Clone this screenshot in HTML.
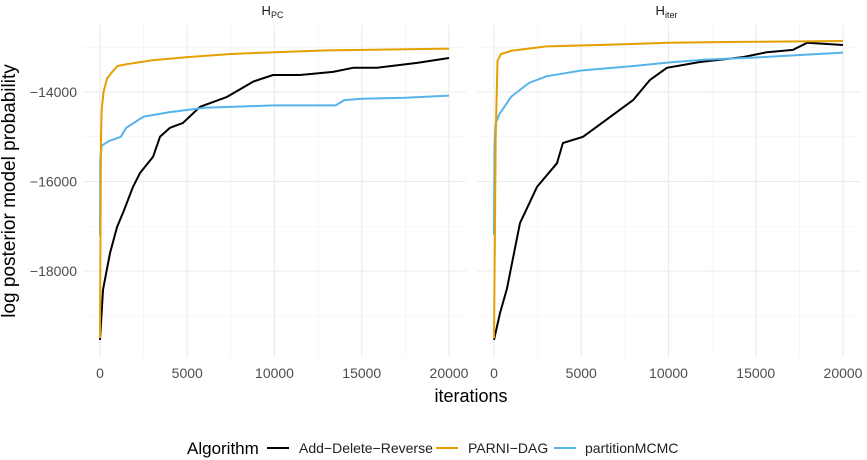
<!DOCTYPE html>
<html><head><meta charset="utf-8"><style>
html,body{margin:0;padding:0;background:#fff;}
svg{display:block;font-family:"Liberation Sans",sans-serif;}
</style></head><body>
<svg id="chart" width="867" height="460" viewBox="0 0 867 460">
<g id="panels"></g>
<text x="15" y="191" transform="rotate(-90 15 191)" text-anchor="middle" font-size="19" fill="#000">log posterior model probability</text>
<text x="471" y="402" text-anchor="middle" font-size="18" fill="#000">iterations</text>
<g>
<text x="187" y="454" font-size="17" fill="#000">Algorithm</text>
<line x1="267" y1="448" x2="289" y2="448" stroke="#000" stroke-width="2"/>
<text x="299" y="453" font-size="14" fill="#222">Add−Delete−Reverse</text>
<line x1="436" y1="448" x2="458" y2="448" stroke="#E69F00" stroke-width="2"/>
<text x="468" y="453" font-size="14" fill="#222">PARNI−DAG</text>
<line x1="554" y1="448" x2="576" y2="448" stroke="#56B4E9" stroke-width="2"/>
<text x="585" y="453" font-size="14" fill="#222">partitionMCMC</text>
</g>
</svg>
<script>
const xTicks=[0,5000,10000,15000,20000];
const yTicks=[-14000,-16000,-18000];
const yMinor=[-13000,-15000,-17000,-19000];
const panelTitles=["PC","iter"];
const leftBlackX=[0,172,573,974,1318,1891,2292,3037,3438,4011,4756,5730,7278,8768,9914,11460,13350,14500,15870,18170,20000];
const leftBlackY=[-19540,-18420,-17600,-17020,-16700,-16120,-15810,-15450,-15000,-14800,-14690,-14330,-14110,-13770,-13620,-13620,-13550,-13460,-13460,-13350,-13240];
const leftOrangeX=[0,30,60,100,200,400,700,1000,1500,3000,5000,7500,10000,13000,20000];
const leftOrangeY=[-19500,-17200,-15000,-14400,-14000,-13700,-13550,-13420,-13380,-13290,-13220,-13150,-13110,-13070,-13030];
const leftBlueX=[0,20,100,500,1200,1500,2500,4000,6000,10000,13500,14000,15000,17500,20000];
const leftBlueY=[-17200,-15500,-15200,-15100,-15000,-14800,-14550,-14450,-14350,-14300,-14300,-14180,-14150,-14130,-14080];
const rightBlackX=[0,344,745,917,1490,2464,3610,3950,5100,6650,7970,8940,9910,11800,14270,15640,17130,17940,20000];
const rightBlackY=[-19540,-18940,-18390,-18050,-16930,-16120,-15590,-15140,-15000,-14560,-14180,-13730,-13460,-13330,-13220,-13110,-13060,-12900,-12950];
const rightOrangeX=[0,50,100,200,400,1000,3000,6000,10000,14000,20000];
const rightOrangeY=[-19500,-17200,-15000,-13300,-13150,-13080,-12980,-12950,-12900,-12880,-12860];
const rightBlueX=[0,30,100,300,1000,2000,3000,5000,8000,10000,12000,15000,20000];
const rightBlueY=[-17200,-15200,-14700,-14500,-14100,-13800,-13650,-13520,-13420,-13340,-13280,-13230,-13120];

const NS="http://www.w3.org/2000/svg";
const gPanels=document.getElementById('panels');
const panels=[{x0:100,left:83,right:466,series:[[leftBlackX,leftBlackY,"#000","add-delete-reverse"],[leftBlueX,leftBlueY,"#56B4E9","partitionmcmc"],[leftOrangeX,leftOrangeY,"#E69F00","parni-dag"]]},
{x0:494,left:477,right:860,series:[[rightBlackX,rightBlackY,"#000","add-delete-reverse"],[rightBlueX,rightBlueY,"#56B4E9","partitionmcmc"],[rightOrangeX,rightOrangeY,"#E69F00","parni-dag"]]}];
const plotTop=25,plotBottom=357;
function yS(v){return 92-(v+14000)/2000*89.5;}
function mk(tag,attrs){const e=document.createElementNS(NS,tag);for(const k in attrs)e.setAttribute(k,attrs[k]);return e;}
panels.forEach((p,pi)=>{
  const xS=v=>p.x0+v/20000*349;
  const pg=mk('g',{});
  
  
  gPanels.appendChild(pg);
  yMinor.forEach(v=>{const l=mk('line',{x1:p.left,x2:p.right,y1:yS(v),y2:yS(v),stroke:'#f1f1f1','stroke-width':0.6});
    
    
    pg.appendChild(l);});
  xTicks.slice(0,4).forEach(v=>{const l=mk('line',{x1:xS(v+2500),x2:xS(v+2500),y1:plotTop,y2:plotBottom,stroke:'#f1f1f1','stroke-width':0.6});
    
    
    pg.appendChild(l);});
  yTicks.forEach(v=>{const l=mk('line',{x1:p.left,x2:p.right,y1:yS(v),y2:yS(v),stroke:'#ebebeb','stroke-width':1.1});
    
    
    pg.appendChild(l);
    if(pi===0){const t=mk('text',{x:77,y:yS(v)+5,'text-anchor':'end','font-size':14,fill:'#4d4d4d'});t.textContent='−'+Math.abs(v);
      
      
      pg.appendChild(t);}});
  xTicks.forEach(v=>{const l=mk('line',{x1:xS(v),x2:xS(v),y1:plotTop,y2:plotBottom,stroke:'#ebebeb','stroke-width':1.1});
    
    
    pg.appendChild(l);
    const t=mk('text',{x:xS(v),y:378,'text-anchor':'middle','font-size':14,fill:'#4d4d4d'});t.textContent=v;
    
    
    pg.appendChild(t);});
  const tt=mk('text',{x:(p.left+p.right)/2-2,y:15,'text-anchor':'middle','font-size':13,fill:'#1a1a1a'});
  tt.innerHTML='H<tspan font-size="9" dy="3">'+panelTitles[pi]+'</tspan>';
  
  
  pg.appendChild(tt);
  p.series.forEach(s=>{
    const pts=s[0].map((x,i)=>xS(x).toFixed(1)+','+yS(s[1][i]).toFixed(1)).join(' ');
    const pl=mk('polyline',{points:pts,fill:'none',stroke:s[2],'stroke-width':2,'stroke-linejoin':'round'});
    
    
    pg.appendChild(pl);
  });
});
</script>
</body></html>
